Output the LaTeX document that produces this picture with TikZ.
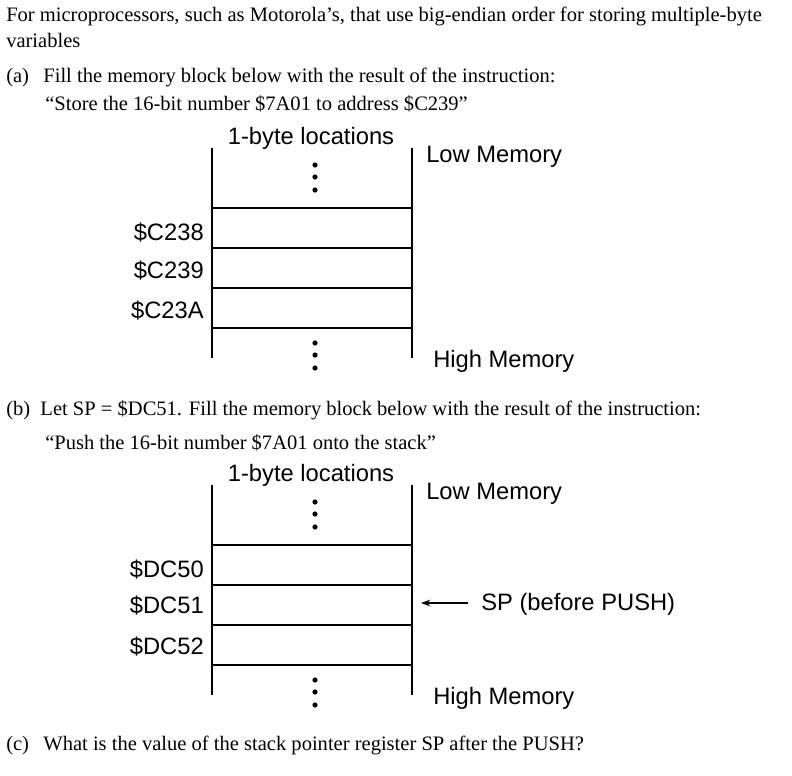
\documentclass[tikz,border=0pt]{standalone}
\usepackage{fontspec}
\usetikzlibrary{arrows.meta}
\setmainfont{Liberation Serif}
\newfontfamily\arialf{Liberation Sans}
\begin{document}
\begin{tikzpicture}[x=0.75pt,y=-0.75pt,
  txt/.style={anchor=base west,inner sep=0,font=\fontsize{15.4}{18}\selectfont},
  lab/.style={inner sep=0,font=\arialf\fontsize{17.8}{21}\selectfont},
  wall/.style={line width=1.1pt},
  cell/.style={line width=1.1pt},
  dotf/.style={fill=black,draw=none}]
\useasboundingbox (0,0) rectangle (792,775);
\node[txt] (t1) at (6,21) {For microprocessors, such as Motorola's, that use big-endian order for storing multiple-byte};
\node[txt] (t2) at (6,47) {variables};
\node[txt] (qa) at (6,82) {(a)\hspace{0.7em}Fill the memory block below with the result of the instruction:};
\node[txt] (qa2) at (45,110) {``Store the 16-bit number \$7A01 to address \$C239''};
\node[txt] (qb) at (6,415) {(b)\hspace{0.5em}Let SP = \$DC51. Fill the memory block below with the result of the instruction:};
\node[txt] (qb2) at (45,449) {``Push the 16-bit number \$7A01 onto the stack''};
\node[txt] (qc) at (6,750) {(c)\hspace{0.7em}What is the value of the stack pointer register SP after the PUSH?};
\foreach \o/\n in {0/a,337/b}{
  \draw[wall] (212,148+\o) -- (212,358+\o);
  \draw[wall] (412,148+\o) -- (412,358+\o);
  \foreach \yy in {208,248,288,328} \draw[cell] (212,\yy+\o) -- (412,\yy+\o);
  \node[lab] (loc\n) at (311,138+\o) {1-byte locations};
  \node[lab,anchor=west] (low\n) at (426,157+\o) {Low Memory};
  \node[lab,anchor=west] (high\n) at (433,361+\o) {High Memory};
  \foreach \yy in {165,177,190,343,355,368} \fill[dotf] (315,\yy+\o) circle (2.6);
}
\node[lab,anchor=east] (c1) at (204,233) {\$C238};
\node[lab,anchor=east] (c2) at (204,271) {\$C239};
\node[lab,anchor=east] (c3) at (204,311) {\$C23A};
\node[lab,anchor=east] (d1) at (204,570) {\$DC50};
\node[lab,anchor=east] (d2) at (204,606) {\$DC51};
\node[lab,anchor=east] (d3) at (204,647) {\$DC52};
\node[lab,anchor=west] (sp) at (481,604) {SP (before PUSH)};
\coordinate (sptip) at (421,603);
\draw[line width=1pt,-{Stealth[length=7pt,width=5pt]}] ([xshift=-10pt,yshift=0.75pt]sp.west) -- (sptip);
\end{tikzpicture}
\end{document}
